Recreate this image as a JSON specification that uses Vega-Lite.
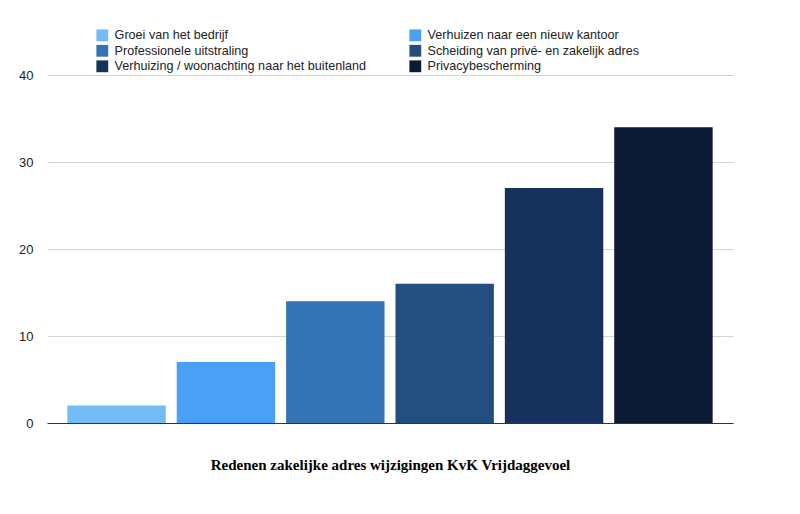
{
  "$schema": "https://vega.github.io/schema/vega-lite/v6.json",
  "autosize": "none",
  "width": 686,
  "height": 348,
  "padding": {"left": 47, "top": 75, "right": 67, "bottom": 91},
  "background": "white",
  "data": {
    "values": [
      {"reden": "Groei van het bedrijf", "aantal": 2},
      {"reden": "Verhuizen naar een nieuw kantoor", "aantal": 7},
      {"reden": "Professionele uitstraling", "aantal": 14},
      {"reden": "Scheiding van privé- en zakelijk adres", "aantal": 16},
      {"reden": "Verhuizing / woonachting naar het buitenland", "aantal": 27},
      {"reden": "Privacybescherming", "aantal": 34}
    ]
  },
  "mark": {"type": "bar"},
  "encoding": {
    "x": {
      "field": "reden",
      "type": "nominal",
      "sort": null,
      "scale": {"paddingInner": 0.1, "paddingOuter": 0.186},
      "axis": {
        "title": "Redenen zakelijke adres wijzigingen KvK Vrijdaggevoel",
        "titleFont": "Liberation Serif",
        "titleFontSize": 15,
        "titleFontWeight": "bold",
        "titleColor": "#000000",
        "titlePadding": 34,
        "labels": false,
        "ticks": false,
        "domainColor": "#333333",
        "domainWidth": 1
      }
    },
    "y": {
      "field": "aantal",
      "type": "quantitative",
      "scale": {"domain": [0, 40]},
      "axis": {
        "title": null,
        "values": [0, 10, 20, 30, 40],
        "domain": false,
        "ticks": false,
        "labelFont": "Liberation Sans",
        "labelFontSize": 13,
        "labelColor": "#222222",
        "labelPadding": 14,
        "gridColor": "#d4d4d4"
      }
    },
    "color": {
      "field": "reden",
      "type": "nominal",
      "sort": null,
      "scale": {
        "domain": [
          "Groei van het bedrijf",
          "Verhuizen naar een nieuw kantoor",
          "Professionele uitstraling",
          "Scheiding van privé- en zakelijk adres",
          "Verhuizing / woonachting naar het buitenland",
          "Privacybescherming"
        ],
        "range": ["#74bcf6", "#4aa0f6", "#3474b6", "#234e80", "#16325c", "#0b1a35"]
      },
      "legend": {
        "title": null,
        "orient": "none",
        "legendX": 49,
        "legendY": -46,
        "columns": 2,
        "direction": "horizontal",
        "symbolType": "square",
        "symbolSize": 140,
        "symbolStrokeWidth": 0,
        "labelFont": "Liberation Sans",
        "labelFontSize": 12.6,
        "labelColor": "#222222",
        "labelOffset": 6,
        "rowPadding": 2.5,
        "columnPadding": 43,
        "labelLimit": 400
      }
    }
  },
  "config": {
    "view": {"stroke": null}
  }
}
